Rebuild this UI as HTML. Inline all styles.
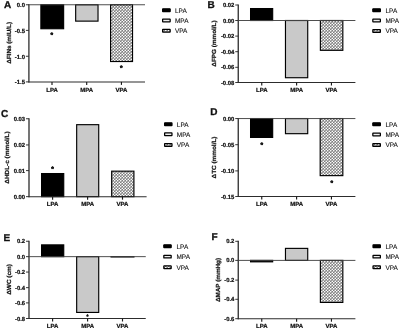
<!DOCTYPE html><html><head><meta charset="utf-8"><title>Figure</title><style>
html,body{margin:0;padding:0;background:#fff;}svg{display:block;filter:blur(0.3px)}
text{font-family:"Liberation Sans",Arial,sans-serif;fill:#111;text-rendering:geometricPrecision;}
.b{font-weight:bold;stroke:#111;stroke-width:0.22px}
.L{stroke-width:0.32px}
.st{stroke-width:0.5px;stroke-linejoin:round}
.lg{stroke:#222;stroke-width:0.12px}
</style></head><body>
<svg width="400" height="329" viewBox="0 0 400 329">
<defs><pattern id="chk" width="3" height="3" patternUnits="userSpaceOnUse"><rect width="3" height="3" fill="#7a7a7a"/><g fill="#fff"><circle cx="0.75" cy="0.75" r="0.82"/><circle cx="2.25" cy="2.25" r="0.82"/><circle cx="3.75" cy="0.75" r="0.82"/><circle cx="0.75" cy="3.75" r="0.82"/><circle cx="-0.75" cy="2.25" r="0.82"/><circle cx="2.25" cy="-0.75" r="0.82"/></g></pattern></defs>
<rect width="400" height="329" fill="#fff"/>
<g>
<rect x="40.88" y="4.75" width="22.75" height="23.98" fill="#000" stroke="#000" stroke-width="1.15"/>
<rect x="75.67" y="4.75" width="22.35" height="16.38" fill="#c9c9c9" stroke="#000" stroke-width="1.15"/>
<rect x="110.58" y="4.75" width="21.95" height="56.77" fill="url(#chk)" stroke="#000" stroke-width="1.15"/>
<line x1="28.9" y1="4.25" x2="28.9" y2="82.4" stroke="#2c2c2c" stroke-width="1.3"/>
<line x1="28.5" y1="4.75" x2="145" y2="4.75" stroke="#444" stroke-width="0.95"/>
<line x1="28.5" y1="81.9" x2="145" y2="81.9" stroke="#2c2c2c" stroke-width="1.05"/>
<line x1="25.9" y1="4.75" x2="28.9" y2="4.75" stroke="#2c2c2c" stroke-width="0.95"/>
<text class="b" x="25.0" y="7.10" font-size="5.9" text-anchor="end">0.0</text>
<line x1="25.9" y1="30.4" x2="28.9" y2="30.4" stroke="#2c2c2c" stroke-width="0.95"/>
<text class="b" x="25.0" y="32.75" font-size="5.9" text-anchor="end">-0.5</text>
<line x1="25.9" y1="56.25" x2="28.9" y2="56.25" stroke="#2c2c2c" stroke-width="0.95"/>
<text class="b" x="25.0" y="58.60" font-size="5.9" text-anchor="end">-1.0</text>
<line x1="25.9" y1="81.9" x2="28.9" y2="81.9" stroke="#2c2c2c" stroke-width="0.95"/>
<text class="b" x="25.0" y="84.25" font-size="5.9" text-anchor="end">-1.5</text>
<line x1="52" y1="81.9" x2="52" y2="84.9" stroke="#1a1a1a" stroke-width="1.15"/>
<text class="b" x="52" y="92.05" font-size="6.0" text-anchor="middle">LPA</text>
<line x1="86.7" y1="81.9" x2="86.7" y2="84.9" stroke="#1a1a1a" stroke-width="1.15"/>
<text class="b" x="86.7" y="92.05" font-size="6.0" text-anchor="middle">MPA</text>
<line x1="121.45" y1="81.9" x2="121.45" y2="84.9" stroke="#1a1a1a" stroke-width="1.15"/>
<text class="b" x="121.45" y="92.05" font-size="6.0" text-anchor="middle">VPA</text>
<text class="b st" x="51.8" y="36.50" font-size="6.6" text-anchor="middle">*</text>
<text class="b st" x="121.3" y="69.50" font-size="6.6" text-anchor="middle">*</text>
<rect x="162.62" y="8.85" width="7.55" height="2.7" fill="#000" stroke="#000" stroke-width="1.25" rx="0.3"/>
<text class="lg" x="175" y="12.50" font-size="6.45">LPA</text>
<rect x="162.62" y="19.05" width="7.55" height="2.7" fill="#ececec" stroke="#000" stroke-width="1.25" rx="0.3"/>
<text class="lg" x="175" y="22.70" font-size="6.45">MPA</text>
<rect x="162.62" y="29.35" width="7.55" height="2.7" fill="url(#chk)" stroke="#000" stroke-width="1.25" rx="0.3"/>
<text class="lg" x="175" y="33.00" font-size="6.45">VPA</text>
<text class="b yl" transform="translate(10.8,42.9) rotate(-90) scale(1.065,1)" font-size="5.95" text-anchor="middle">ΔFINs (mIU/L)</text>
<text class="b L" x="3.9" y="7.9" font-size="10">A</text>
</g>
<g>
<rect x="250.57" y="8.57" width="22.10" height="11.93" fill="#000" stroke="#000" stroke-width="1.15"/>
<rect x="285.47" y="20.50" width="22.25" height="57.22" fill="#c9c9c9" stroke="#000" stroke-width="1.15"/>
<rect x="320.38" y="20.50" width="22.45" height="29.82" fill="url(#chk)" stroke="#000" stroke-width="1.15"/>
<line x1="238.25" y1="4.5" x2="238.25" y2="83.0" stroke="#2c2c2c" stroke-width="1.3"/>
<line x1="237.85" y1="20.5" x2="355.4" y2="20.5" stroke="#444" stroke-width="0.95"/>
<line x1="237.85" y1="82.5" x2="355.4" y2="82.5" stroke="#2c2c2c" stroke-width="1.05"/>
<line x1="235.25" y1="5" x2="238.25" y2="5" stroke="#2c2c2c" stroke-width="0.95"/>
<text class="b" x="234.35" y="7.05" font-size="5.9" text-anchor="end">0.02</text>
<line x1="235.25" y1="20.5" x2="238.25" y2="20.5" stroke="#2c2c2c" stroke-width="0.95"/>
<text class="b" x="234.35" y="22.55" font-size="5.9" text-anchor="end">0.00</text>
<line x1="235.25" y1="36.1" x2="238.25" y2="36.1" stroke="#2c2c2c" stroke-width="0.95"/>
<text class="b" x="234.35" y="38.15" font-size="5.9" text-anchor="end">-0.02</text>
<line x1="235.25" y1="51.7" x2="238.25" y2="51.7" stroke="#2c2c2c" stroke-width="0.95"/>
<text class="b" x="234.35" y="53.75" font-size="5.9" text-anchor="end">-0.04</text>
<line x1="235.25" y1="67.3" x2="238.25" y2="67.3" stroke="#2c2c2c" stroke-width="0.95"/>
<text class="b" x="234.35" y="69.35" font-size="5.9" text-anchor="end">-0.06</text>
<line x1="235.25" y1="82.5" x2="238.25" y2="82.5" stroke="#2c2c2c" stroke-width="0.95"/>
<text class="b" x="234.35" y="84.55" font-size="5.9" text-anchor="end">-0.08</text>
<line x1="261.75" y1="82.5" x2="261.75" y2="85.5" stroke="#1a1a1a" stroke-width="1.15"/>
<text class="b" x="261.75" y="91.60" font-size="6.0" text-anchor="middle">LPA</text>
<line x1="296.6" y1="82.5" x2="296.6" y2="85.5" stroke="#1a1a1a" stroke-width="1.15"/>
<text class="b" x="296.6" y="91.60" font-size="6.0" text-anchor="middle">MPA</text>
<line x1="331.45" y1="82.5" x2="331.45" y2="85.5" stroke="#1a1a1a" stroke-width="1.15"/>
<text class="b" x="331.45" y="91.60" font-size="6.0" text-anchor="middle">VPA</text>
<rect x="372.82" y="8.85" width="7.55" height="2.7" fill="#000" stroke="#000" stroke-width="1.25" rx="0.3"/>
<text class="lg" x="385.5" y="12.50" font-size="6.45">LPA</text>
<rect x="372.82" y="19.15" width="7.55" height="2.7" fill="#ececec" stroke="#000" stroke-width="1.25" rx="0.3"/>
<text class="lg" x="385.5" y="22.80" font-size="6.45">MPA</text>
<rect x="372.82" y="29.65" width="7.55" height="2.7" fill="url(#chk)" stroke="#000" stroke-width="1.25" rx="0.3"/>
<text class="lg" x="385.5" y="33.30" font-size="6.45">VPA</text>
<text class="b yl" transform="translate(216.4,43.55) rotate(-90) scale(1.072,1)" font-size="5.95" text-anchor="middle">ΔFPG (mmol/L)</text>
<text class="b L" x="207.5" y="7.9" font-size="10">B</text>
</g>
<g>
<rect x="41.58" y="173.57" width="22.15" height="23.08" fill="#000" stroke="#000" stroke-width="1.15"/>
<rect x="76.67" y="124.67" width="22.05" height="71.98" fill="#c9c9c9" stroke="#000" stroke-width="1.15"/>
<rect x="111.67" y="171.17" width="22.25" height="25.48" fill="url(#chk)" stroke="#000" stroke-width="1.15"/>
<line x1="29.0" y1="118.25" x2="29.0" y2="197.15" stroke="#2c2c2c" stroke-width="1.3"/>
<line x1="28.6" y1="196.65" x2="146.6" y2="196.65" stroke="#2c2c2c" stroke-width="1.05"/>
<line x1="26.0" y1="118.75" x2="29.0" y2="118.75" stroke="#2c2c2c" stroke-width="0.95"/>
<text class="b" x="25.1" y="120.80" font-size="5.9" text-anchor="end">0.03</text>
<line x1="26.0" y1="144.95" x2="29.0" y2="144.95" stroke="#2c2c2c" stroke-width="0.95"/>
<text class="b" x="25.1" y="147.00" font-size="5.9" text-anchor="end">0.02</text>
<line x1="26.0" y1="170.6" x2="29.0" y2="170.6" stroke="#2c2c2c" stroke-width="0.95"/>
<text class="b" x="25.1" y="172.65" font-size="5.9" text-anchor="end">0.01</text>
<line x1="26.0" y1="196.65" x2="29.0" y2="196.65" stroke="#2c2c2c" stroke-width="0.95"/>
<text class="b" x="25.1" y="198.70" font-size="5.9" text-anchor="end">0.00</text>
<line x1="52.6" y1="196.65" x2="52.6" y2="199.65" stroke="#1a1a1a" stroke-width="1.15"/>
<text class="b" x="52.6" y="206.10" font-size="6.0" text-anchor="middle">LPA</text>
<line x1="87.6" y1="196.65" x2="87.6" y2="199.65" stroke="#1a1a1a" stroke-width="1.15"/>
<text class="b" x="87.6" y="206.10" font-size="6.0" text-anchor="middle">MPA</text>
<line x1="122.5" y1="196.65" x2="122.5" y2="199.65" stroke="#1a1a1a" stroke-width="1.15"/>
<text class="b" x="122.5" y="206.10" font-size="6.0" text-anchor="middle">VPA</text>
<text class="b st" x="52.5" y="170.80" font-size="6.6" text-anchor="middle">*</text>
<rect x="164.62" y="122.85" width="7.35" height="2.7" fill="#000" stroke="#000" stroke-width="1.25" rx="0.3"/>
<text class="lg" x="176.8" y="126.50" font-size="6.45">LPA</text>
<rect x="164.62" y="132.95" width="7.35" height="2.7" fill="#ececec" stroke="#000" stroke-width="1.25" rx="0.3"/>
<text class="lg" x="176.8" y="136.60" font-size="6.45">MPA</text>
<rect x="164.62" y="143.55" width="7.35" height="2.7" fill="url(#chk)" stroke="#000" stroke-width="1.25" rx="0.3"/>
<text class="lg" x="176.8" y="147.20" font-size="6.45">VPA</text>
<text class="b yl" transform="translate(9.1,157.5) rotate(-90) scale(1.08,1)" font-size="5.95" text-anchor="middle">ΔHDL-c (mmol/L)</text>
<text class="b L" x="0.9" y="117.4" font-size="10">C</text>
</g>
<g>
<rect x="250.57" y="118.55" width="22.10" height="18.88" fill="#000" stroke="#000" stroke-width="1.15"/>
<rect x="285.47" y="118.55" width="22.25" height="15.13" fill="#c9c9c9" stroke="#000" stroke-width="1.15"/>
<rect x="320.18" y="118.55" width="22.65" height="57.08" fill="url(#chk)" stroke="#000" stroke-width="1.15"/>
<line x1="238.25" y1="118.05" x2="238.25" y2="197.0" stroke="#2c2c2c" stroke-width="1.3"/>
<line x1="237.85" y1="118.55" x2="355.4" y2="118.55" stroke="#444" stroke-width="0.95"/>
<line x1="237.85" y1="196.5" x2="355.4" y2="196.5" stroke="#2c2c2c" stroke-width="1.05"/>
<line x1="235.25" y1="118.55" x2="238.25" y2="118.55" stroke="#2c2c2c" stroke-width="0.95"/>
<text class="b" x="234.35" y="120.60" font-size="5.9" text-anchor="end">0.00</text>
<line x1="235.25" y1="144.7" x2="238.25" y2="144.7" stroke="#2c2c2c" stroke-width="0.95"/>
<text class="b" x="234.35" y="146.75" font-size="5.9" text-anchor="end">-0.05</text>
<line x1="235.25" y1="170.9" x2="238.25" y2="170.9" stroke="#2c2c2c" stroke-width="0.95"/>
<text class="b" x="234.35" y="172.95" font-size="5.9" text-anchor="end">-0.10</text>
<line x1="235.25" y1="196.5" x2="238.25" y2="196.5" stroke="#2c2c2c" stroke-width="0.95"/>
<text class="b" x="234.35" y="198.55" font-size="5.9" text-anchor="end">-0.15</text>
<line x1="261.75" y1="196.5" x2="261.75" y2="199.5" stroke="#1a1a1a" stroke-width="1.15"/>
<text class="b" x="261.75" y="206.05" font-size="6.0" text-anchor="middle">LPA</text>
<line x1="296.6" y1="196.5" x2="296.6" y2="199.5" stroke="#1a1a1a" stroke-width="1.15"/>
<text class="b" x="296.6" y="206.05" font-size="6.0" text-anchor="middle">MPA</text>
<line x1="331.45" y1="196.5" x2="331.45" y2="199.5" stroke="#1a1a1a" stroke-width="1.15"/>
<text class="b" x="331.45" y="206.05" font-size="6.0" text-anchor="middle">VPA</text>
<text class="b st" x="261.9" y="146.60" font-size="6.6" text-anchor="middle">*</text>
<text class="b st" x="331.8" y="185.20" font-size="6.6" text-anchor="middle">*</text>
<rect x="372.82" y="122.85" width="7.55" height="2.7" fill="#000" stroke="#000" stroke-width="1.25" rx="0.3"/>
<text class="lg" x="385.5" y="126.50" font-size="6.45">LPA</text>
<rect x="372.82" y="133.15" width="7.55" height="2.7" fill="#ececec" stroke="#000" stroke-width="1.25" rx="0.3"/>
<text class="lg" x="385.5" y="136.80" font-size="6.45">MPA</text>
<rect x="372.82" y="143.65" width="7.55" height="2.7" fill="url(#chk)" stroke="#000" stroke-width="1.25" rx="0.3"/>
<text class="lg" x="385.5" y="147.30" font-size="6.45">VPA</text>
<text class="b yl" transform="translate(216.4,157.5) rotate(-90) scale(1.078,1)" font-size="5.95" text-anchor="middle">ΔTC (mmol/L)</text>
<text class="b L" x="210.3" y="115.0" font-size="10">D</text>
</g>
<g>
<rect x="41.58" y="244.88" width="22.15" height="11.77" fill="#000" stroke="#000" stroke-width="1.15"/>
<rect x="76.67" y="256.65" width="22.05" height="55.78" fill="#c9c9c9" stroke="#000" stroke-width="1.15"/>
<rect x="111.08" y="256.65" width="22.85" height="0.30" fill="url(#chk)" stroke="#000" stroke-width="1.15"/>
<line x1="29.0" y1="240.75" x2="29.0" y2="319.0" stroke="#2c2c2c" stroke-width="1.3"/>
<line x1="28.6" y1="256.65" x2="145.75" y2="256.65" stroke="#444" stroke-width="0.95"/>
<line x1="28.6" y1="318.5" x2="145.75" y2="318.5" stroke="#2c2c2c" stroke-width="1.05"/>
<line x1="26.0" y1="241.25" x2="29.0" y2="241.25" stroke="#2c2c2c" stroke-width="0.95"/>
<text class="b" x="25.1" y="243.30" font-size="5.9" text-anchor="end">0.2</text>
<line x1="26.0" y1="256.65" x2="29.0" y2="256.65" stroke="#2c2c2c" stroke-width="0.95"/>
<text class="b" x="25.1" y="258.70" font-size="5.9" text-anchor="end">0.0</text>
<line x1="26.0" y1="272.05" x2="29.0" y2="272.05" stroke="#2c2c2c" stroke-width="0.95"/>
<text class="b" x="25.1" y="274.10" font-size="5.9" text-anchor="end">-0.2</text>
<line x1="26.0" y1="287.65" x2="29.0" y2="287.65" stroke="#2c2c2c" stroke-width="0.95"/>
<text class="b" x="25.1" y="289.70" font-size="5.9" text-anchor="end">-0.4</text>
<line x1="26.0" y1="302.9" x2="29.0" y2="302.9" stroke="#2c2c2c" stroke-width="0.95"/>
<text class="b" x="25.1" y="304.95" font-size="5.9" text-anchor="end">-0.6</text>
<line x1="26.0" y1="318.5" x2="29.0" y2="318.5" stroke="#2c2c2c" stroke-width="0.95"/>
<text class="b" x="25.1" y="320.55" font-size="5.9" text-anchor="end">-0.8</text>
<line x1="52.6" y1="318.5" x2="52.6" y2="321.5" stroke="#1a1a1a" stroke-width="1.15"/>
<text class="b" x="52.6" y="327.80" font-size="6.0" text-anchor="middle">LPA</text>
<line x1="87.6" y1="318.5" x2="87.6" y2="321.5" stroke="#1a1a1a" stroke-width="1.15"/>
<text class="b" x="87.6" y="327.80" font-size="6.0" text-anchor="middle">MPA</text>
<line x1="122.5" y1="318.5" x2="122.5" y2="321.5" stroke="#1a1a1a" stroke-width="1.15"/>
<text class="b" x="122.5" y="327.80" font-size="6.0" text-anchor="middle">VPA</text>
<text class="b st" x="87.5" y="318.40" font-size="5.0" text-anchor="middle">*</text>
<rect x="163.82" y="244.85" width="7.35" height="2.7" fill="#000" stroke="#000" stroke-width="1.25" rx="0.3"/>
<text class="lg" x="176.5" y="248.50" font-size="6.45">LPA</text>
<rect x="163.82" y="255.25" width="7.35" height="2.7" fill="#ececec" stroke="#000" stroke-width="1.25" rx="0.3"/>
<text class="lg" x="176.5" y="258.90" font-size="6.45">MPA</text>
<rect x="163.82" y="265.85" width="7.35" height="2.7" fill="url(#chk)" stroke="#000" stroke-width="1.25" rx="0.3"/>
<text class="lg" x="176.5" y="269.50" font-size="6.45">VPA</text>
<text class="b yl" transform="translate(11.0,279.45) rotate(-90) scale(1.086,1)" font-size="5.95" text-anchor="middle">ΔWC (cm)</text>
<text class="b L" x="3.55" y="241.15" font-size="10">E</text>
</g>
<g>
<rect x="250.57" y="260.40" width="22.10" height="1.43" fill="#000" stroke="#000" stroke-width="1.15"/>
<rect x="285.47" y="248.38" width="22.25" height="12.02" fill="#c9c9c9" stroke="#000" stroke-width="1.15"/>
<rect x="320.38" y="260.40" width="22.45" height="42.03" fill="url(#chk)" stroke="#000" stroke-width="1.15"/>
<line x1="238.25" y1="240.8" x2="238.25" y2="319.2" stroke="#2c2c2c" stroke-width="1.3"/>
<line x1="237.85" y1="260.4" x2="355.4" y2="260.4" stroke="#444" stroke-width="0.95"/>
<line x1="237.85" y1="318.7" x2="355.4" y2="318.7" stroke="#2c2c2c" stroke-width="1.05"/>
<line x1="235.25" y1="241.3" x2="238.25" y2="241.3" stroke="#2c2c2c" stroke-width="0.95"/>
<text class="b" x="234.35" y="243.35" font-size="5.9" text-anchor="end">0.2</text>
<line x1="235.25" y1="260.4" x2="238.25" y2="260.4" stroke="#2c2c2c" stroke-width="0.95"/>
<text class="b" x="234.35" y="262.45" font-size="5.9" text-anchor="end">0.0</text>
<line x1="235.25" y1="280.1" x2="238.25" y2="280.1" stroke="#2c2c2c" stroke-width="0.95"/>
<text class="b" x="234.35" y="282.15" font-size="5.9" text-anchor="end">-0.2</text>
<line x1="235.25" y1="299.3" x2="238.25" y2="299.3" stroke="#2c2c2c" stroke-width="0.95"/>
<text class="b" x="234.35" y="301.35" font-size="5.9" text-anchor="end">-0.4</text>
<line x1="235.25" y1="318.7" x2="238.25" y2="318.7" stroke="#2c2c2c" stroke-width="0.95"/>
<text class="b" x="234.35" y="320.75" font-size="5.9" text-anchor="end">-0.6</text>
<line x1="261.75" y1="318.7" x2="261.75" y2="321.7" stroke="#1a1a1a" stroke-width="1.15"/>
<text class="b" x="261.75" y="328.10" font-size="6.0" text-anchor="middle">LPA</text>
<line x1="296.6" y1="318.7" x2="296.6" y2="321.7" stroke="#1a1a1a" stroke-width="1.15"/>
<text class="b" x="296.6" y="328.10" font-size="6.0" text-anchor="middle">MPA</text>
<line x1="331.45" y1="318.7" x2="331.45" y2="321.7" stroke="#1a1a1a" stroke-width="1.15"/>
<text class="b" x="331.45" y="328.10" font-size="6.0" text-anchor="middle">VPA</text>
<rect x="373.02" y="244.85" width="7.35" height="2.7" fill="#000" stroke="#000" stroke-width="1.25" rx="0.3"/>
<text class="lg" x="385.5" y="248.50" font-size="6.45">LPA</text>
<rect x="373.02" y="255.25" width="7.35" height="2.7" fill="#ececec" stroke="#000" stroke-width="1.25" rx="0.3"/>
<text class="lg" x="385.5" y="258.90" font-size="6.45">MPA</text>
<rect x="373.02" y="265.85" width="7.35" height="2.7" fill="url(#chk)" stroke="#000" stroke-width="1.25" rx="0.3"/>
<text class="lg" x="385.5" y="269.50" font-size="6.45">VPA</text>
<text class="b yl" transform="translate(219.9,280.0) rotate(-90) scale(1.065,1)" font-size="5.95" text-anchor="middle">ΔMAP (mmHg)</text>
<text class="b L" x="211.5" y="240.4" font-size="10">F</text>
</g>
</svg></body></html>
